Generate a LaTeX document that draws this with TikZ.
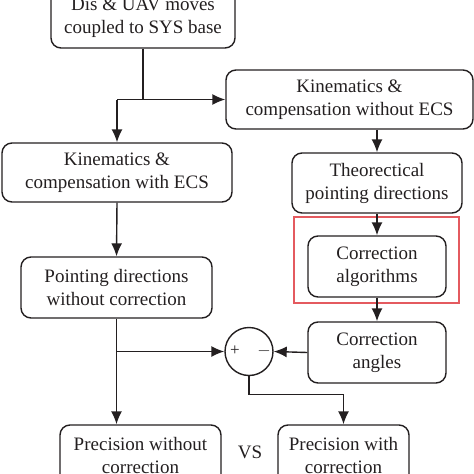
\documentclass[tikz,border=0pt]{standalone}
\usepackage{fontspec}
\setmainfont{Liberation Serif}
\usetikzlibrary{calc}
\usetikzlibrary{arrows.meta}

\definecolor{ink}{RGB}{35,31,32}
\definecolor{frameRed}{RGB}{228,90,95}

\begin{document}
\begin{tikzpicture}[x=1pt,y=-1pt,
  box/.style={draw=ink, text=ink, rounded corners=10pt, align=center, inner sep=0pt,
    font=\fontsize{19}{23}\selectfont, line width=1.4pt},
  arr/.style={draw=ink, line width=1.4pt, -{Latex[length=13pt,width=11pt]}},
  wire/.style={draw=ink, line width=1.4pt}]
\useasboundingbox (0,0) rectangle (474,474);
\node (dis) at (143,18) [box, minimum width=184pt, minimum height=60pt] {Dis \& UAV moves\\coupled to SYS base};
\node (woecs) at (349.5,99.5) [box, minimum width=247pt, minimum height=59pt] {Kinematics \&\\compensation without ECS};
\node (wecs) at (117,172.5) [box, minimum width=230pt, minimum height=59pt] {Kinematics \&\\compensation with ECS};
\node (theo) at (377,183) [box, minimum width=170pt, minimum height=60pt] {Theorectical\\pointing directions};
\node (frame) at (376.5,260) [draw=frameRed, line width=1.1pt, minimum width=165pt, minimum height=86pt] {};
\node (algo) at (377,266.5) [box, minimum width=138pt, minimum height=61pt] {Correction\\algorithms};
\node (angles) at (377,352.5) [box, minimum width=138pt, minimum height=61pt] {Correction\\angles};
\node (pointing) at (116.5,287.5) [box, minimum width=191pt, minimum height=61pt] {Pointing directions\\without correction};
\node (sum) at (249,351.5) [draw=ink, line width=1.4pt, circle, minimum size=48pt, inner sep=0pt] {};
\node (plus) at (235,351) [text=ink, font=\fontsize{17}{17}\selectfont] {+};
\node (minus) at (264,351) [text=ink, font=\fontsize{17}{17}\selectfont] {$-$};
\node (precwo) at (140.5,455) [box, minimum width=161pt, minimum height=60pt] {Precision without\\correction};
\node (precw) at (343.5,455) [box, minimum width=131pt, minimum height=60pt] {Precision with\\correction};
\node (vs) at (250,452) [text=ink, font=\fontsize{19}{19}\selectfont] {VS};
% top split
\coordinate (j1) at (wecs.north |- woecs.west);
\draw [wire] (dis.south) -- (dis.south |- woecs.west);
\draw [arr] (j1) -- (woecs.west);
\draw [arr] (j1) -- (wecs.north);
% right column
\draw [arr] (woecs.south -| theo.north) -- (theo.north);
\draw [arr] (theo.south) -- (algo.north);
\draw [arr] (algo.south) -- (angles.north);
\draw [arr] (angles.west) -- (sum.east);
% left column
\draw [arr] (wecs.south) -- (pointing.north);
\coordinate (j2) at (pointing.south |- sum.west);
\draw [arr] (pointing.south) -- (pointing.south |- precwo.north);
\draw [arr] (j2) -- (sum.west);
% sum output
\coordinate (j3) at ($(sum.south)+(0,18)$);
\draw [arr] (sum.south) -- (j3) -- (j3 -| precw.north) -- (precw.north);
\end{tikzpicture}
\end{document}
